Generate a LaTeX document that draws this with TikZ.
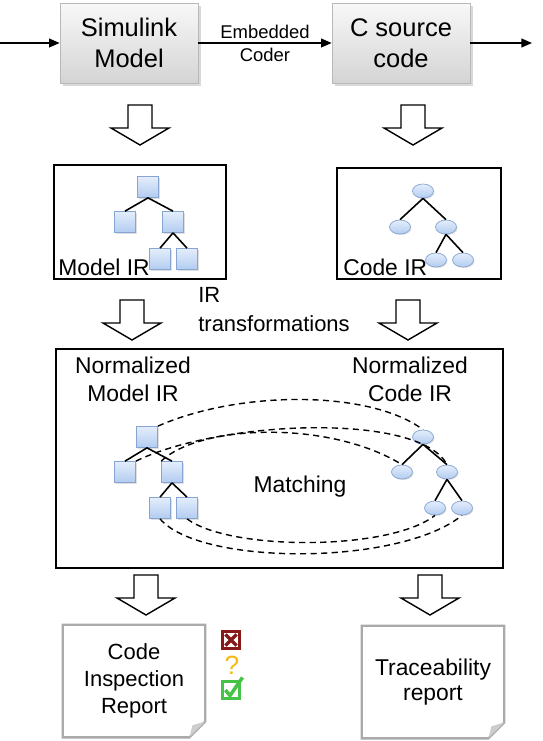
\documentclass[tikz,border=0pt]{standalone}
\usepackage{fontspec}
\setmainfont{Liberation Sans}
\usetikzlibrary{
  arrows.meta,
  backgrounds,
  calc,
  positioning,
  shadows,
  shapes.geometric
}
\definecolor{boxtop}{RGB}{248,248,248}
\definecolor{boxbot}{RGB}{212,212,212}
\definecolor{boxedge}{RGB}{185,185,185}
\definecolor{irtop}{RGB}{228,238,252}
\definecolor{irbot}{RGB}{178,204,240}
\definecolor{iredge}{RGB}{135,165,210}
\definecolor{docedge}{RGB}{170,170,170}
\definecolor{foldgray}{RGB}{205,205,205}
\definecolor{crossred}{RGB}{135,25,25}
\definecolor{qyellow}{RGB}{245,185,20}
\definecolor{checkgreen}{RGB}{70,195,70}
\tikzset{
  % Kulrang manba bloklari
  srcbox/.style  = {draw=boxedge, top color=boxtop, bottom color=boxbot,
                    minimum width=138*0.02cm, minimum height=80*0.02cm,
                    align=center, font=\fontsize{14.5}{17.5}\selectfont,
                    drop shadow={shadow xshift=1.5pt, shadow yshift=-1.5pt, opacity=0.3}},
  % O'q chiziqlari
  flow/.style    = {-{Triangle[length=6pt,width=5pt]}, line width=0.8pt},
  flowlab/.style = {font=\fontsize{10.5}{13}\selectfont, align=center},
  % IR daraxt tugunlari
  irsq/.style    = {draw=iredge, top color=irtop, bottom color=irbot,
                    minimum size=21*0.02cm, inner sep=0pt,
                    drop shadow={shadow xshift=0.6pt, shadow yshift=-0.6pt, opacity=0.25}},
  irel/.style    = {ellipse, draw=iredge, top color=irtop, bottom color=irbot,
                    minimum width=21*0.02cm, minimum height=14*0.02cm, inner sep=0pt,
                    drop shadow={shadow xshift=0.6pt, shadow yshift=-0.6pt, opacity=0.25}},
  treeedge/.style= {line width=0.9pt},
  match/.style   = {dash pattern=on 3.5pt off 2.5pt, line width=0.8pt},
  % Ramkalar va etiketlar
  frame/.style   = {line width=0.9pt},
  lab/.style     = {font=\fontsize{13}{16}\selectfont, inner sep=0pt},
  normlab/.style = {font=\fontsize{13}{16}\selectfont, align=center},
  % Hisobot varaqlari
  docnode/.style = {minimum width=142*0.02cm, minimum height=112*0.02cm,
                    align=center, inner sep=0pt},
  docline/.style = {draw=docedge, line width=1.3pt, fill=white},
  % Bo'sh o'qlar
  hollowarr/.pic = {\draw[line width=0.8pt, fill=white]
                      (-12,0) -- (12,0) -- (12,23) -- (29,23) -- (0,40)
                      -- (-29,23) -- (-12,23) -- cycle;},
}

\begin{document}
\begin{tikzpicture}[x=0.02cm, y=-0.02cm]
  \useasboundingbox (0,0) rectangle (543,741);
  % Yuqori qator
  \coordinate (inL) at (0,43);
  \coordinate (outR) at (532,43);
  \node[srcbox] (sim) at (129,43) {Simulink\\Model};
  \node[srcbox] (csrc) at (401,43) {C source\\code};
  \draw[flow] (inL) -- (sim);
  \draw[flow] (sim) -- node[flowlab] (coder) {Embedded\\Coder} (csrc);
  \draw[flow] (csrc) -- (outR);
  % Bo'sh o'qlar
  \pic at (140,105) {hollowarr};
  \pic at (413,105) {hollowarr};
  \pic at (132,300) {hollowarr};
  \pic at (408,300) {hollowarr};
  \pic at (146,575) {hollowarr};
  \pic at (430,575) {hollowarr};
  % IR ramkalari
  \draw[frame] (54,165) rectangle (226,279);
  \draw[frame] (337,168) rectangle (501,279);
  \node[lab, anchor=base west] (mirlab) at (58,275) {Model IR};
  \node[lab, anchor=base west] (cirlab) at (343,275) {Code IR};
  % Model IR daraxti
  \node[irsq] (m1) at (148,187) {};
  \node[irsq] (m2) at (125,222) {};
  \node[irsq] (m3) at (173,222) {};
  \node[irsq] (m4) at (160,259) {};
  \node[irsq] (m5) at (187,259) {};
  \draw[treeedge] (m1.south) -- (m2.north) (m1.south) -- (m3.north)
                  (m3.south) -- (m4.north) (m3.south) -- (m5.north);
  % Code IR daraxti
  \node[irel] (c1) at (423,191) {};
  \node[irel] (c2) at (400,227) {};
  \node[irel] (c3) at (446,227) {};
  \node[irel] (c4) at (436,260) {};
  \node[irel] (c5) at (463,260) {};
  \draw[treeedge] (c1.south) -- (c2.north) (c1.south) -- (c3.north)
                  (c3.south) -- (c4.north) (c3.south) -- (c5.north);
  % IR o'zgartirishlar
  \node[font=\fontsize{12.5}{16.5}\selectfont, align=left, anchor=north west, inner sep=0pt]
    (irtr) at (198,287) {IR\\transformations};
  % Moslashtirish ramkasi
  \draw[frame, line width=1.1pt] (56,349) rectangle (503,568);
  \node[normlab] (nmlab) at (133,379) {Normalized\\Model IR};
  \node[normlab] (nclab) at (410,379) {Normalized\\Code IR};
  \node[font=\fontsize{13}{15}\selectfont] (matchlab) at (300,487) {Matching};
  \node[irsq] (n1) at (147,437) {};
  \node[irsq] (n2) at (125,472) {};
  \node[irsq] (n3) at (172,472) {};
  \node[irsq] (n4) at (160,508) {};
  \node[irsq] (n5) at (187,508) {};
  \draw[treeedge] (n1.south) -- (n2.north) (n1.south) -- (n3.north)
                  (n3.south) -- (n4.north) (n3.south) -- (n5.north);
  \node[irel] (e1) at (423,437) {};
  \node[irel] (e2) at (402,472) {};
  \node[irel] (e3) at (447,472) {};
  \node[irel] (e4) at (435,508) {};
  \node[irel] (e5) at (462,508) {};
  \draw[treeedge] (e1.south) -- (e2.north) (e1.south) -- (e3.north)
                  (e3.south) -- (e4.north) (e3.south) -- (e5.north);
  % Moslik chiziqlari
  \draw[match] (n1.north east) .. controls (240,390) and (370,390) .. (e1.north);
  \draw[match] (n2.north east) .. controls (220,420) and (420,412) .. (e3.north);
  \draw[match] (n3.north west) .. controls (200,424) and (330,420) .. (e2.north);
  \draw[match] (n4.south) .. controls (200,566) and (400,566) .. (e5.south);
  \draw[match] (n5.south) .. controls (230,551) and (390,551) .. (e4.south);
  % Hisobotlar
  \node[docnode, font=\fontsize{12.5}{15.3}\selectfont] (insp) at (134,681) {Code\\Inspection\\Report};
  \node[docnode, font=\fontsize{13}{14.5}\selectfont] (trace) at (433,682) {Traceability\\report};
  \begin{scope}[on background layer]
    \foreach \d in {insp,trace}{
      \draw[docline] (\d.north west) -- (\d.north east) -- ($(\d.south east)+(0,-16)$)
        -- ($(\d.south east)+(-16,0)$) -- (\d.south west) -- cycle;
      \fill[foldgray] ($(\d.south east)+(0,-16)$) -- ($(\d.south east)+(-16,0)$)
        -- ($(\d.south east)+(-13,-12)$) -- cycle;
    }
  \end{scope}
  % Belgilar
  \node[draw=crossred, line width=1.2pt, minimum size=17*0.02cm, inner sep=0pt] (xbox) at (231,640) {};
  \draw[crossred, line width=2pt] ($(xbox.north west)+(4,4)$) -- ($(xbox.south east)+(-4,-4)$)
                                 ($(xbox.north east)+(-4,4)$) -- ($(xbox.south west)+(4,-4)$);
  \node[text=qyellow, font=\fontsize{15}{15}\selectfont, inner sep=0pt] (qmark) at (232,665) {?};
  \node[draw=checkgreen, line width=1.2pt, minimum size=17*0.02cm, inner sep=0pt] (cbox) at (231,690) {};
  \draw[checkgreen, line width=2pt] ($(cbox.west)+(4,0)$) -- ($(cbox.south)+(-1,-4)$)
                                    -- ($(cbox.north east)+(2,-3)$);
\end{tikzpicture}
\end{document}
